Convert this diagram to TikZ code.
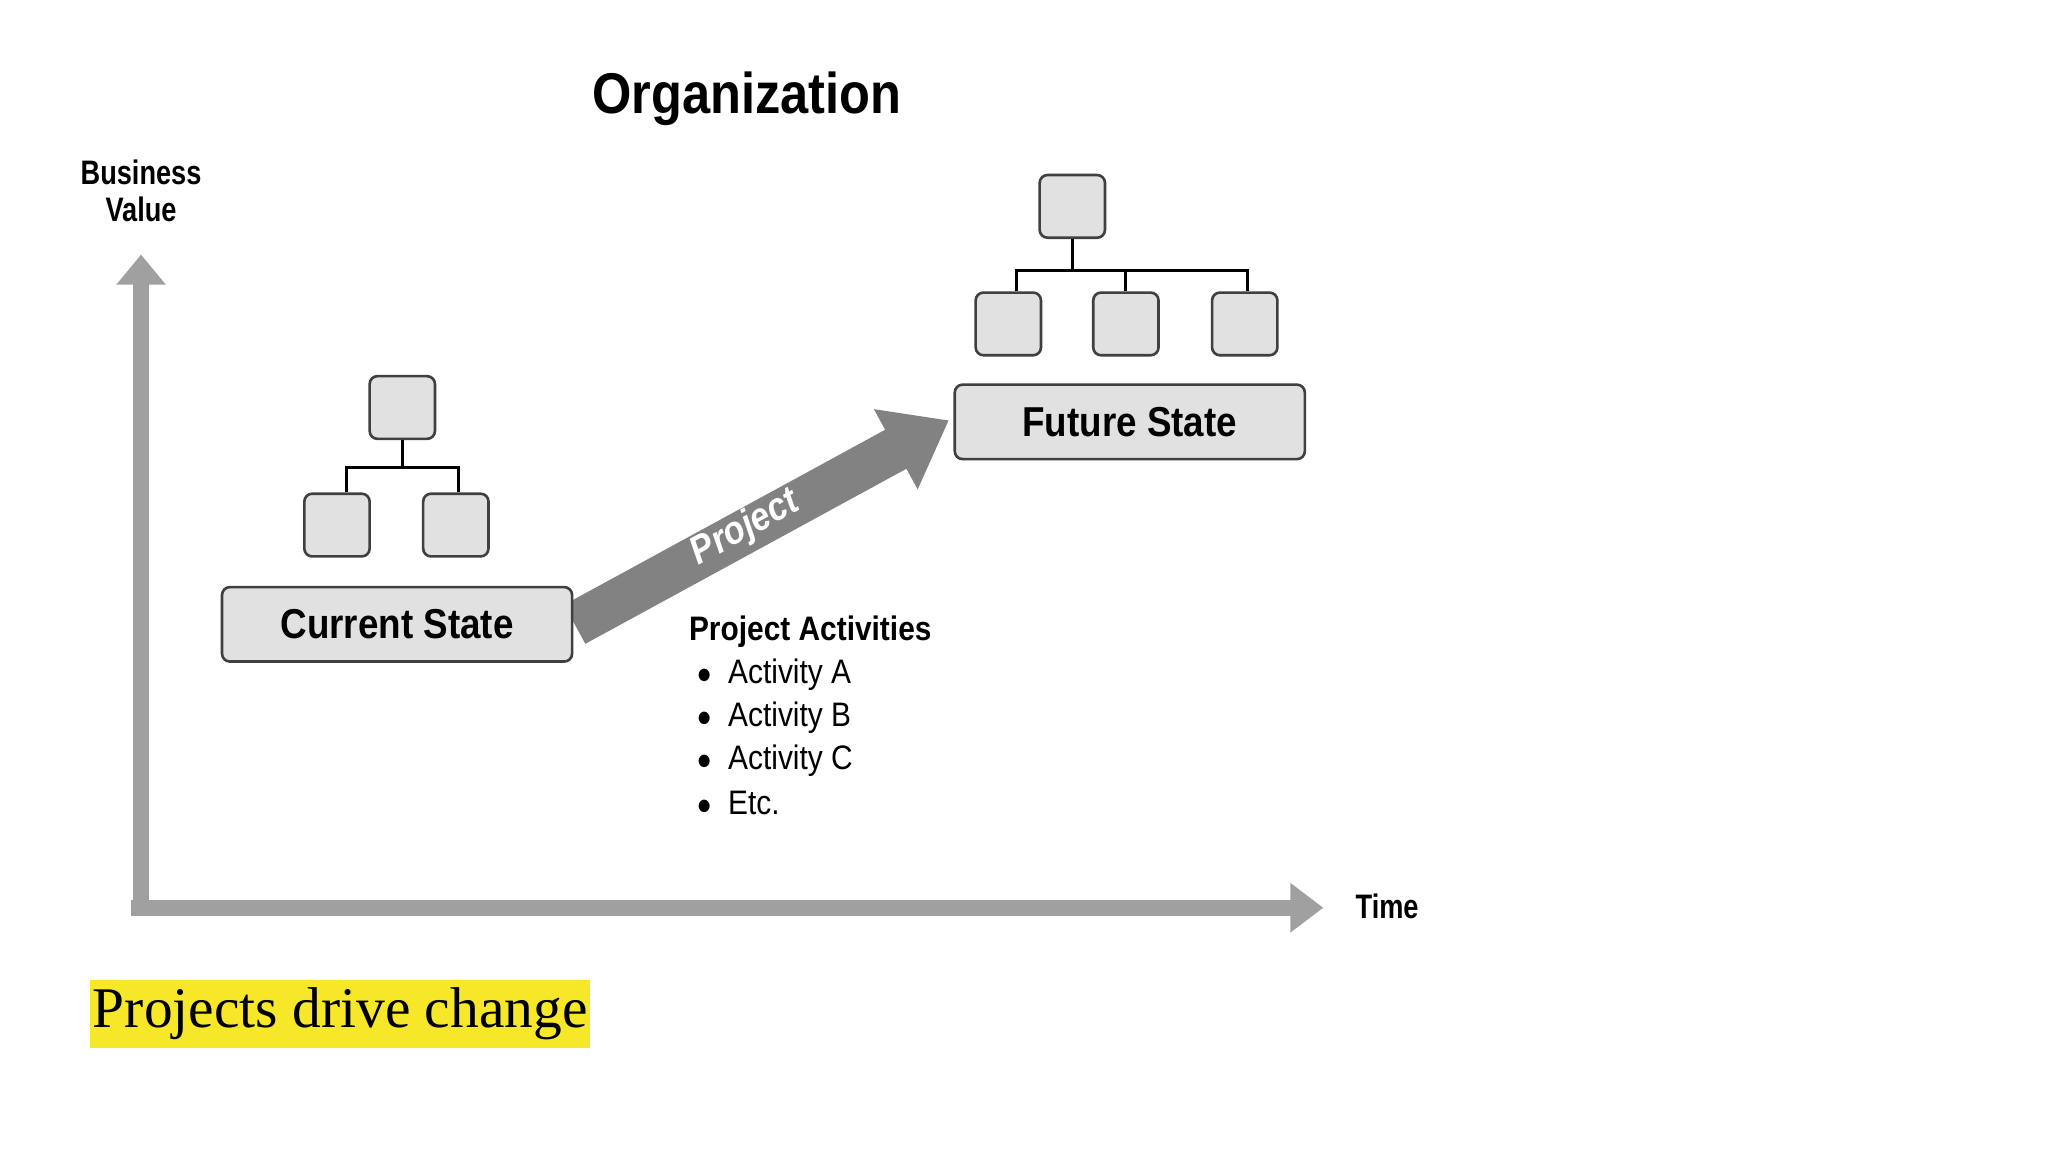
\documentclass[tikz,border=0pt]{standalone}
\usepackage{fontspec}
\setmainfont{Liberation Sans}
\newfontfamily\serifhl{Liberation Serif}
\newcommand{\cnd}[1]{\scalebox{0.8}[1]{#1}}
\newcommand{\cnw}[1]{\scalebox{0.88}[1]{#1}}
\definecolor{axisgray}{RGB}{160,160,160}
\definecolor{boxfill}{RGB}{225,225,225}
\definecolor{arrowgray}{RGB}{130,130,130}
\definecolor{hl}{RGB}{246,232,40}
\tikzset{
  sbox/.style={draw=black!75,line width=2pt,fill=boxfill,rounded corners=6pt,minimum width=50pt,minimum height=48pt,inner sep=0pt},
  bigbox/.style={draw=black!75,line width=2pt,fill=boxfill,rounded corners=6pt,minimum width=268pt,minimum height=57pt,inner sep=0pt,font=\bfseries\fontsize{32}{34}\selectfont},
  conn/.style={line width=2.2pt,black},
  ax/.style={line width=12pt,axisgray},
  lbl/.style={font=\bfseries\fontsize{26}{30}\selectfont,align=center},
  act/.style={font=\fontsize{26}{33}\selectfont,align=left,anchor=north west}
}
\begin{document}
\begin{tikzpicture}[x=1pt,y=-1pt]
\useasboundingbox (0,0) rectangle (1568,882);
\fill[white] (0,0) rectangle (1568,882);
% title
\node (title) at (572,76) {\cnw{\bfseries\fontsize{44}{46}\selectfont Organization}};
\node[lbl] (bv) at (108,146) {\cnd{Business}\\[-2pt]\cnd{Value}};
\node[lbl] (time) at (1062,694) {\cnd{Time}};
% axes
\coordinate (ytop) at (108,215);
\coordinate (xend) at (992,695);
\draw[ax] (108,701) -- (ytop);
\fill[axisgray] (89,218) -- (108,195) -- (127,218) -- cycle;
\draw[ax] (100,695) -- (xend);
\fill[axisgray] (988,676) -- (1013,695) -- (988,714) -- cycle;
% project arrow
\begin{scope}[shift={(440,478)},rotate=28.6]
\fill[arrowgray] (0,-17) -- (280,-17) -- (280,-35) -- (326,0) -- (280,35) -- (280,17) -- (0,17) -- cycle;
\node[text=white,rotate=28.6] (proj) at (150,-2) {\cnw{\bfseries\itshape\fontsize{30}{30}\selectfont Project}};
\end{scope}
% current state
\node[bigbox] (cur) at (304,478) {\cnw{Current State}};
\node[sbox] (c0) at (308,312) {};
\node[sbox] (c1) at (258,402) {};
\node[sbox] (c2) at (349,402) {};
\draw[conn] (c0.south) -- (308,358) coordinate (cb);
\draw[conn] (c1.north -| 265,0) |- (cb) -| (c2.north -| 351,0);
% future state
\node[bigbox] (fut) at (865,323) {\cnw{Future State}};
\node[sbox] (f0) at (821,158) {};
\node[sbox] (f1) at (772,248) {};
\node[sbox] (f2) at (862,248) {};
\node[sbox] (f3) at (953,248) {};
\draw[conn] (f0.south) -- (821,207) coordinate (fb);
\draw[conn] (f1.north -| 778,0) |- (fb) -| (f3.north -| 955,0);
\draw[conn] (f2.north) -- (862,207);
% activities
\node[act] (acts) at (524,468) {\cnw{\bfseries Project Activities}\\[0pt]
\cnw{\ $\bullet$\ \ Activity A}\\[0pt]
\cnw{\ $\bullet$\ \ Activity B}\\[0pt]
\cnw{\ $\bullet$\ \ Activity C}\\[1pt]
\cnw{\ $\bullet$\ \ Etc.}};
% caption
\node[fill=hl,anchor=west,inner xsep=2pt,minimum height=52pt,font=\serifhl\fontsize{44}{46}\selectfont] (cap) at (69,776) {Projects drive change};
\end{tikzpicture}
\end{document}
